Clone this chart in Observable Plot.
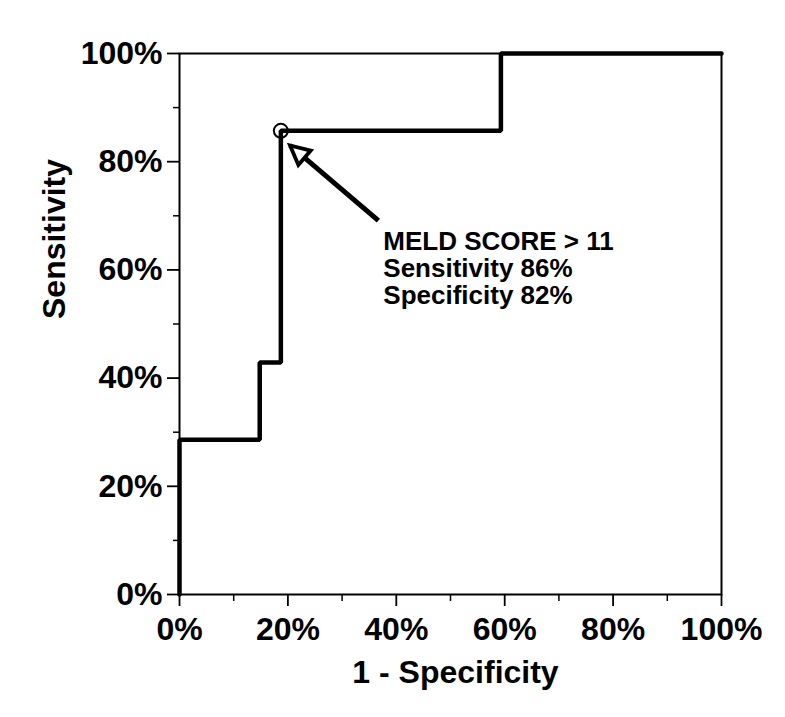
<!DOCTYPE html>
<html>
<head>
<meta charset="utf-8">
<script src="https://cdn.jsdelivr.net/npm/d3@7"></script>
<script src="https://cdn.jsdelivr.net/npm/@observablehq/plot@0.6"></script>
<style>
  html, body { margin: 0; padding: 0; background: white; }
  #chart svg { display: block; }
</style>
</head>
<body>
<div id="chart"></div>
<script>
// ROC curve points (1 - specificity, sensitivity), in %
const fpr = [0, 0, 14.8, 18.7, 59.3, 100];
const tpr = [0, 28.6, 42.9, 85.7, 100, 100];

// tick values
const majorTicks = [0, 20, 40, 60, 80, 100];
const minorTicks = [10, 30, 50, 70, 90];

// cutoff point and annotation
const cutoffX = [18.7];
const cutoffY = [85.7];
const annotLines = ["MELD SCORE > 11", "Sensitivity 86%", "Specificity 82%"];
const annotPos = [37.6, 67.3];
const arrowFrom = [36.7, 69.1];
const arrowTo = [20.4, 83.0];

const xTitle = "1 - Specificity";
const yTitle = "Sensitivity";

const roc = fpr.map((x, i) => ({x, y: tpr[i]}));
const cutoff = cutoffX.map((x, i) => ({x, y: cutoffY[i]}));
const arrow = [{x1: arrowFrom[0], y1: arrowFrom[1], x2: arrowTo[0], y2: arrowTo[1]}];

const FONT = "'Liberation Sans', Arial, Helvetica, sans-serif";
const pct = d => d + "%";

const chart = Plot.plot({
  width: 785,
  height: 717,
  marginLeft: 179,
  marginRight: 64,
  marginTop: 53,
  marginBottom: 123,
  style: {fontFamily: FONT, color: "black", background: "white"},
  x: {domain: [0, 100], label: null},
  y: {domain: [0, 100], label: null},
  marks: [
    Plot.frame({stroke: "black", strokeWidth: 2}),
    Plot.axisX({ticks: majorTicks, tickFormat: pct, tickSize: 12, tickPadding: 11,
      fontSize: 32, fontWeight: "bold", strokeWidth: 1.8, label: null}),
    Plot.axisX({ticks: minorTicks, tickFormat: () => "", tickSize: 7, strokeWidth: 1.5, label: null}),
    Plot.axisY({ticks: majorTicks, tickFormat: pct, tickSize: 12, tickPadding: 5,
      fontSize: 32, fontWeight: "bold", strokeWidth: 1.8, label: null}),
    Plot.axisY({ticks: minorTicks, tickFormat: () => "", tickSize: 6, strokeWidth: 1.5, label: null}),
    Plot.line(roc, {x: "x", y: "y", curve: "step-after", stroke: "black", strokeWidth: 4.5,
      strokeLinejoin: "miter"}),
    Plot.dot(cutoff, {x: "x", y: "y", r: 7, stroke: "black", strokeWidth: 2, fill: "none"}),
    Plot.link(arrow, {x1: "x1", y1: "y1", x2: "x2", y2: "y2", stroke: "black", strokeWidth: 5,
      className: "callout-arrow"}),
    Plot.text([annotLines.join("\n")], {x: annotPos[0], y: annotPos[1], text: d => d,
      textAnchor: "start", lineAnchor: "top", fontSize: 26, fontWeight: "bold", lineHeight: 1.04,
      fill: "black"}),
    Plot.text([xTitle], {frameAnchor: "bottom", text: d => d, lineAnchor: "top", dy: 66, dx: 5,
      fontSize: 32, fontWeight: "bold", fill: "black"}),
    Plot.text([yTitle], {frameAnchor: "left", text: d => d, rotate: -90, lineAnchor: "middle",
      dx: -124.5, dy: -5, fontSize: 32, fontWeight: "bold", fill: "black"})
  ]
});

document.getElementById("chart").appendChild(chart);

// hollow triangular arrowhead for the callout
const svg = d3.select(chart);
let defs = svg.select("defs");
if (defs.empty()) defs = svg.insert("defs", ":first-child");
const marker = defs.append("marker")
  .attr("id", "hollow-head")
  .attr("viewBox", "-26 -15 32 30")
  .attr("refX", 0).attr("refY", 0)
  .attr("markerWidth", 32).attr("markerHeight", 30)
  .attr("markerUnits", "userSpaceOnUse")
  .attr("orient", "auto");
marker.append("path")
  .attr("d", "M0,0 L-19,-9.5 L-19,9.5 Z")
  .attr("fill", "white").attr("stroke", "black")
  .attr("stroke-width", 3.8).attr("stroke-linejoin", "miter");
svg.selectAll(".callout-arrow path").attr("marker-end", "url(#hollow-head)");
</script>
</body>
</html>
